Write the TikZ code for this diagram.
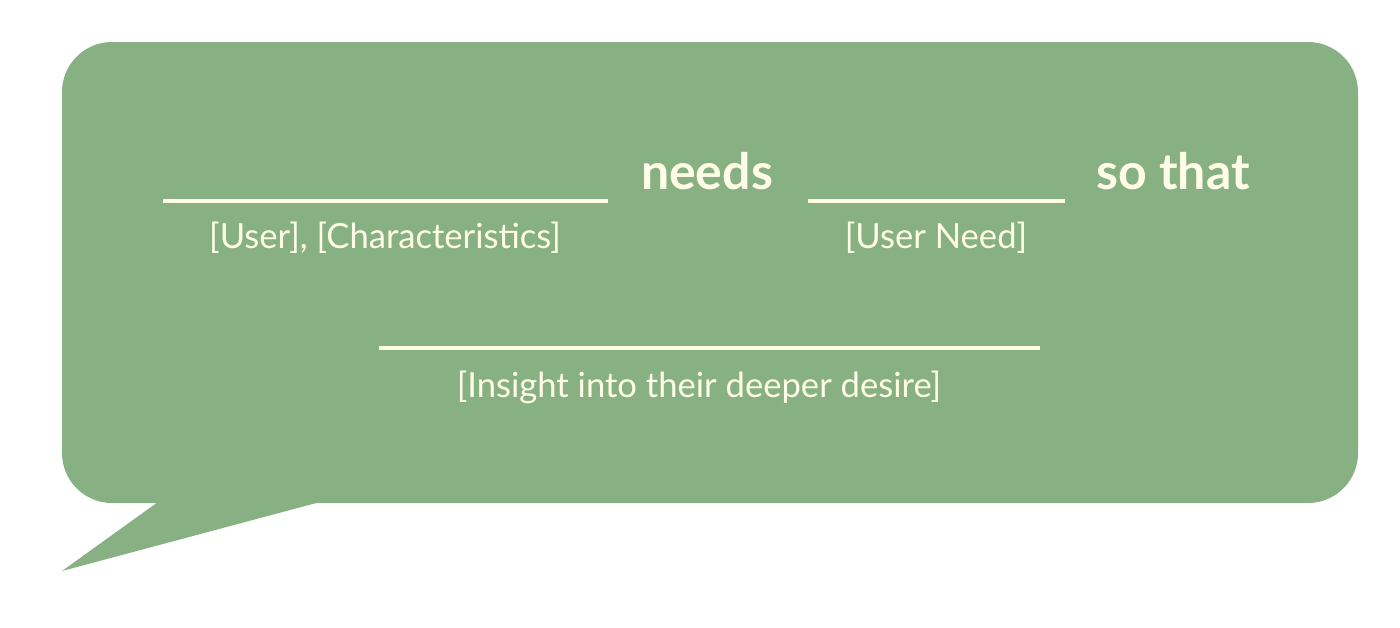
\documentclass[tikz,border=0pt]{standalone}
\usepackage{fontspec}
\setmainfont{Lato}
\usetikzlibrary{positioning}

\definecolor{bubblegreen}{HTML}{87B183}
\definecolor{cream}{HTML}{FFFDE6}

\begin{document}
\begin{tikzpicture}[
    x=0.5pt, y=-0.5pt,
    word/.style={text=cream, font=\fontsize{25}{29}\selectfont\bfseries, anchor=base, inner sep=0pt},
    hint/.style={text=cream, font=\fontsize{17.3}{21}\selectfont, anchor=base, inner sep=0pt},
    blank/.style={draw=cream, line width=2pt}
  ]
    \useasboundingbox (0,0) rectangle (1400,627);
    % speech bubble
    \fill[bubblegreen, rounded corners=25pt] (62,42) rectangle (1358,503);
    \fill[bubblegreen] (158,502) -- (62,571) -- (320,502) -- cycle;

    % first row
    \coordinate (u0) at (163,201);
    \coordinate (u1) at (608,201);
    \coordinate (n0) at (808,201);
    \coordinate (n1) at (1065,201);
    \draw[blank] (u0) -- (u1);
    \draw[blank] (n0) -- (n1);
    \node[word] (needs) at (707,189) {needs};
    \node[word] (sothat) at (1173,189) {so that};
    \node[hint] (user) at (385,248) {[User], [Characteristics]};
    \node[hint] (need) at (936,248) {[User Need]};

    % second row
    \coordinate (i0) at (379,348);
    \coordinate (i1) at (1040,348);
    \draw[blank] (i0) -- (i1);
    \node[hint] (insight) at (699,397) {[Insight into their deeper desire]};
  \end{tikzpicture}
\end{document}
